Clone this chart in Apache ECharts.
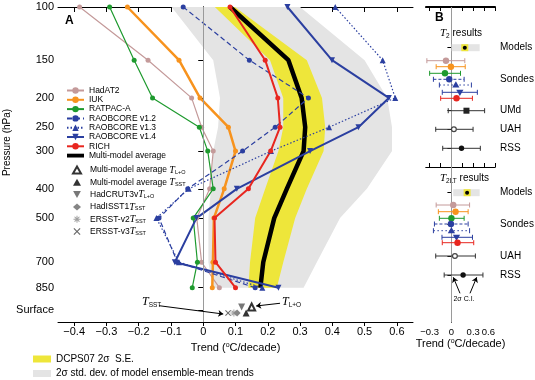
<!DOCTYPE html>
<html><head><meta charset="utf-8">
<script src="https://cdn.jsdelivr.net/npm/echarts@6/dist/echarts.min.js"></script>
<style>html,body{margin:0;padding:0;background:#fff}#c{width:535px;height:380px}</style>
</head><body><div id="c"></div>
<script>
// ---------------- Panel A data ----------------
const pressureLevels = [100, 150, 200, 250, 300, 400, 500, 700, 850];
const hadAT2   = [-0.383, -0.171, -0.036, -0.005, 0.031, 0.02, -0.02, -0.005, 0.05];
const iuk      = [-0.235, -0.075, -0.01, 0.078, 0.10, 0.065, 0.033, 0.03, 0.028];
const ratpacA  = [-0.29, -0.214, -0.157, -0.012, 0.014, 0.031, -0.031, -0.018, -0.034];
const raob12   = [-0.062, 0.143, 0.326, 0.223, 0.122, -0.048, -0.137, -0.08, 0.161];
const raob13   = [0.409, 0.556, 0.595, 0.39, 0.21, -0.045, -0.145, -0.075, 0.183];
const raob14   = [0.261, 0.399, 0.575, 0.481, 0.331, 0.104, -0.021, -0.088, 0.233];
const rich     = [0.083, 0.192, 0.231, 0.238, 0.209, 0.14, 0.035, 0.038, 0.10];
const modelMean = [0.083, 0.264, 0.305, 0.316, 0.311, 0.259, 0.22, 0.186, 0.177];
const dcpsLow  = [0.036, 0.207, 0.248, 0.248, 0.233, 0.192, 0.161, 0.145, 0.14];
const dcpsHigh = [0.098, 0.321, 0.368, 0.378, 0.373, 0.321, 0.285, 0.248, 0.228];
const sdLow    = [-0.098, 0.031, 0.052, 0.046, 0.031, 0.024, 0.016, 0.016, 0.03];
const sdHigh   = [0.30, 0.50, 0.57, 0.585, 0.585, 0.507, 0.424, 0.352, 0.311];
// surface values
const surfaceTickPressure = 1007;
const rowLO = 985, rowSST = 1031;
const modelTLO = 0.15, modelTSST = 0.133, hadcrutTLO = 0.119, hadisstTSST = 0.105, ersst2TSST = 0.095, ersst3TSST = 0.077;
// ticks
const xTicksA = [-0.4, -0.3, -0.2, -0.1, 0, 0.1, 0.2, 0.3, 0.4, 0.5, 0.6];
const pressureTicks = [100, 150, 200, 250, 300, 400, 500, 700, 850, surfaceTickPressure];
const pressureTickLabels = ['100', '150', '200', '250', '300', '400', '500', '700', '850', 'Surface'];

// ---------------- Panel B data ----------------
const t2Names  = ['Models', 'HadAT2', 'IUK', 'RATPAC-A', 'RAOBCORE v1.2', 'RAOBCORE v1.3', 'RAOBCORE v1.4', 'RICH', 'UMd', 'UAH', 'RSS'];
const t2Center = [0.184, -0.075, -0.007, -0.089, -0.03, 0.061, 0.116, 0.07, 0.207, 0.034, 0.139];
const t2Low    = [0.003, -0.338, -0.21, -0.30, -0.248, -0.166, -0.126, -0.148, -0.044, -0.216, -0.12];
const t2High   = [0.389, 0.184, 0.19, 0.125, 0.175, 0.275, 0.357, 0.289, 0.457, 0.298, 0.398];
const t2Row    = [4.07, 5.37, 5.97, 6.63, 7.23, 7.8, 8.53, 9.13, 10.37, 12.23, 14.13];
const t2TickRows = [4.07, 7.23, 10.37, 12.23, 14.13];
const t2TickLabels = ['Models', 'Sondes', 'UMd', 'UAH', 'RSS'];

const t2ltNames  = ['Models', 'HadAT2', 'IUK', 'RATPAC-A', 'RAOBCORE v1.2', 'RAOBCORE v1.3', 'RAOBCORE v1.4', 'RICH', 'UAH', 'RSS'];
const t2ltCenter = [0.216, 0.025, 0.057, 0.0, -0.007, 0.0, 0.07, 0.084, 0.048, 0.161];
const t2ltLow    = [0.025, -0.21, -0.18, -0.166, -0.234, -0.248, -0.13, -0.126, -0.216, -0.10];
const t2ltHigh   = [0.389, 0.25, 0.23, 0.175, 0.23, 0.25, 0.29, 0.307, 0.33, 0.434];
const t2ltRow    = [2.57, 3.8, 4.47, 5.13, 5.7, 6.37, 7.03, 7.57, 8.9, 10.8];
const t2ltTickRows = [2.57, 5.7, 8.9, 10.8];
const t2ltTickLabels = ['Models', 'Sondes', 'UAH', 'RSS'];
const xTicksB = [-0.3, -0.15, 0, 0.15, 0.3, 0.45, 0.6];
const xLabelsB = [-0.3, 0, 0.3, 0.6];

// ---------------- styles ----------------
const FONT = "'Liberation Sans', Arial, sans-serif";
const C = {
  had: '#C49A9A', iuk: '#F7931E', rat: '#1E9A2E', blue: '#2B3FA0', rich: '#E8261F',
  yellow: '#EEE63A', gray: '#E4E4E4', zero: '#9A9A9A'
};
const bStyle = {
  'Models': {color: '#000', marker: 'model'},
  'HadAT2': {color: C.had, marker: 'circle'},
  'IUK': {color: C.iuk, marker: 'circle'},
  'RATPAC-A': {color: C.rat, marker: 'circle'},
  'RAOBCORE v1.2': {color: C.blue, marker: 'circle', dash: [3, 2]},
  'RAOBCORE v1.3': {color: C.blue, marker: 'triangle', dash: [1.5, 2.5]},
  'RAOBCORE v1.4': {color: C.blue, marker: 'down'},
  'RICH': {color: C.rich, marker: 'circle'},
  'UMd': {color: '#222', bar: '#333', marker: 'square'},
  'UAH': {color: '#444', bar: '#333', marker: 'open'},
  'RSS': {color: '#111', bar: '#333', marker: 'dot'}
};

const lg = p => Math.log10(p);
const pairs = vals => vals.map((v, i) => [v, lg(pressureLevels[i])]);
const fmtNum = v => (Math.abs(v) < 1e-9 ? '0' : (v < 0 ? '\u2212' + Math.abs(v).toFixed(1) : v.toFixed(1)));
const lookup = (vals, labels) => v => { const i = vals.findIndex(t => Math.abs(t - v) < 1e-6); return i >= 0 ? labels[i] : ''; };

const yTickValsA = pressureTicks.map(lg);

function bandRenderer(lo, hi) {
  return function (params, api) {
    if (params.dataIndex !== 0) return null;
    const pts = [];
    for (let i = 0; i < lo.length; i++) pts.push(api.coord([lo[i], lg(pressureLevels[i])]));
    for (let i = hi.length - 1; i >= 0; i--) pts.push(api.coord([hi[i], lg(pressureLevels[i])]));
    return {type: 'polygon', shape: {points: pts}, style: {fill: api.visual('color')}};
  };
}

function barRenderer(names) {
  return function (params, api) {
    const row = api.value(3);
    const c = api.coord([api.value(0), row]);
    const l = api.coord([api.value(1), row]);
    const h = api.coord([api.value(2), row]);
    const st = bStyle[names[params.dataIndex]];
    const ch = [];
    const y = c[1];
    if (st.marker === 'model') {
      ch.push({type: 'rect', shape: {x: l[0], y: y - 3.5, width: h[0] - l[0], height: 7}, style: {fill: C.gray}});
      ch.push({type: 'rect', shape: {x: c[0] - 3.5, y: y - 3.5, width: 7, height: 7}, style: {fill: C.yellow}});
      ch.push({type: 'circle', shape: {cx: c[0], cy: y, r: 2}, style: {fill: '#000'}});
    } else {
      const col = st.bar || st.color;
      ch.push({type: 'line', shape: {x1: l[0], y1: y, x2: h[0], y2: y}, style: {stroke: col, lineWidth: 1, lineDash: st.dash || null}});
      ch.push({type: 'line', shape: {x1: l[0], y1: y - 2.5, x2: l[0], y2: y + 2.5}, style: {stroke: col, lineWidth: 1}});
      ch.push({type: 'line', shape: {x1: h[0], y1: y - 2.5, x2: h[0], y2: y + 2.5}, style: {stroke: col, lineWidth: 1}});
      const x = c[0];
      if (st.marker === 'circle') ch.push({type: 'circle', shape: {cx: x, cy: y, r: 3.2}, style: {fill: st.color}});
      else if (st.marker === 'triangle') ch.push({type: 'polygon', shape: {points: [[x, y - 3.8], [x - 3.6, y + 2.6], [x + 3.6, y + 2.6]]}, style: {fill: st.color}});
      else if (st.marker === 'down') ch.push({type: 'polygon', shape: {points: [[x, y + 3.8], [x - 3.6, y - 2.6], [x + 3.6, y - 2.6]]}, style: {fill: st.color}});
      else if (st.marker === 'square') ch.push({type: 'rect', shape: {x: x - 3, y: y - 3, width: 6, height: 6}, style: {fill: st.color}});
      else if (st.marker === 'open') ch.push({type: 'circle', shape: {cx: x, cy: y, r: 2.4}, style: {fill: '#fff', stroke: st.color, lineWidth: 1.2}});
      else if (st.marker === 'dot') ch.push({type: 'circle', shape: {cx: x, cy: y, r: 2.7}, style: {fill: st.color}});
    }
    return {type: 'group', children: ch};
  };
}

const lineSeries = (name, vals, color, width, symbol, size, extra) => Object.assign({
  name, type: 'line', xAxisIndex: 0, yAxisIndex: 0, data: pairs(vals),
  symbol, symbolSize: size, showSymbol: symbol !== 'none',
  lineStyle: {color, width}, itemStyle: {color}, z: 4, silent: true
}, extra || {});

const scatterSeries = (name, x, rowP, symbol, size, color, extra) => Object.assign({
  name, type: 'scatter', xAxisIndex: 0, yAxisIndex: 0, data: [[x, lg(rowP)]],
  symbol, symbolSize: size, itemStyle: {color}, z: 6, silent: true
}, extra || {});

const zeroLine = (xi, yi) => ({
  type: 'line', xAxisIndex: xi, yAxisIndex: yi, data: [], z: 2, silent: true,
  markLine: {silent: true, symbol: 'none', label: {show: false}, animation: false,
    lineStyle: {color: C.zero, width: 1, type: 'solid'}, data: [{xAxis: 0}]}
});

const crossPath = 'path://M0,1.2 L1.2,0 L5,3.8 L8.8,0 L10,1.2 L6.2,5 L10,8.8 L8.8,10 L5,6.2 L1.2,10 L0,8.8 L3.8,5 Z';
const starPath = 'path://M4.3,0 H5.7 V3.3 L8,1 L9,2 L6.7,4.3 H10 V5.7 H6.7 L9,8 L8,9 L5.7,6.7 V10 H4.3 V6.7 L2,9 L1,8 L3.3,5.7 H0 V4.3 H3.3 L1,2 L2,1 L4.3,3.3 Z';
const downPath = 'path://M0,0 L10,0 L5,9 Z';

const richSub = {
  n: {fontSize: 8.5, fontFamily: FONT, lineHeight: 9},
  i: {fontSize: 10, fontFamily: "'Liberation Serif', serif", fontStyle: 'italic', lineHeight: 9},
  s: {fontSize: 5.5, fontFamily: FONT, lineHeight: 6, padding: [4, 0, 0, 0]}
};

const legend1Names = ['HadAT2', 'IUK', 'RATPAC-A', 'RAOBCORE v1.2', 'RAOBCORE v1.3', 'RAOBCORE v1.4', 'RICH'];
const legend2Names = ['Multi-model average TLO', 'Multi-model average TSST', 'HadCRUT3v TLO', 'HadISST1 TSST', 'ERSST-v2 TSST', 'ERSST-v3 TSST'];
const legend2Text = {
  'Multi-model average TLO': '{n|Multi-model average }{i|T}{s|L+O}',
  'Multi-model average TSST': '{n|Multi-model average }{i|T}{s|SST}',
  'HadCRUT3v TLO': '{n|HadCRUT3v}{i|T}{s|L+O}',
  'HadISST1 TSST': '{n|HadISST1}{i|T}{s|SST}',
  'ERSST-v2 TSST': '{n|ERSST-v2}{i|T}{s|SST}',
  'ERSST-v3 TSST': '{n|ERSST-v3}{i|T}{s|SST}'
};
const band1Name = 'DCPS07 2\u03c3  S.E.';
const band2Name = '2\u03c3 std. dev. of model ensemble-mean trends';

const axisBase = {splitLine: {show: false}, axisLine: {lineStyle: {color: '#000', width: 1}}};
const nameRich = {
  n: {fontSize: 11, fontFamily: FONT, color: '#000'},
  sup: {fontSize: 7, fontFamily: FONT, color: '#000', padding: [0, 0, 6, 0]}
};
const gridBase = {containLabel: false, outerBoundsMode: 'none'};

const option = {
  animation: false,
  textStyle: {fontFamily: FONT, color: '#000'},
  grid: [
    Object.assign({left: 58, top: 7, width: 355, height: 315}, gridBase),
    Object.assign({left: 426, top: 7, width: 69, height: 160}, gridBase),
    Object.assign({left: 426, top: 167, width: 69, height: 155}, gridBase)
  ],
  xAxis: [
    Object.assign({}, axisBase, {gridIndex: 0, type: 'value', min: -0.45, max: 0.65, position: 'bottom',
      axisTick: {customValues: xTicksA, length: 4, inside: false, lineStyle: {color: '#000'}},
      axisLabel: {customValues: xTicksA, formatter: fmtNum, fontSize: 11, margin: 4, color: '#000'},
      name: '{n|Trend (}{sup|o}{n|C/decade)}', nameLocation: 'middle', nameGap: 16,
      nameTextStyle: {rich: nameRich}}),
    Object.assign({}, axisBase, {gridIndex: 0, type: 'value', min: -0.45, max: 0.65, position: 'top',
      axisTick: {customValues: xTicksA, length: 5, inside: true, lineStyle: {color: '#000'}},
      axisLabel: {show: false}}),
    Object.assign({}, axisBase, {gridIndex: 1, type: 'value', min: -0.35, max: 0.6, position: 'top',
      axisTick: {customValues: xTicksB, length: 4, inside: true, lineStyle: {color: '#000'}},
      axisLabel: {show: false}}),
    Object.assign({}, axisBase, {gridIndex: 1, type: 'value', min: -0.35, max: 0.6, position: 'bottom',
      axisLine: {lineStyle: {color: '#000', width: 2}}, axisTick: {show: false}, axisLabel: {show: false}}),
    Object.assign({}, axisBase, {gridIndex: 2, type: 'value', min: -0.35, max: 0.6, position: 'top',
      axisTick: {show: false}, axisLabel: {show: false}}),
    Object.assign({}, axisBase, {gridIndex: 2, type: 'value', min: -0.35, max: 0.6, position: 'bottom',
      axisTick: {customValues: xTicksB, length: 4, inside: true, lineStyle: {color: '#000'}},
      axisLabel: {customValues: xLabelsB, formatter: fmtNum, fontSize: 9.5, margin: 5, color: '#000',
        showMaxLabel: true, alignMaxLabel: 'right', hideOverlap: false},
      name: '{n|Trend (}{sup|o}{n|C/decade)}', nameLocation: 'middle', nameGap: 15,
      nameTextStyle: {rich: nameRich}})
  ],
  yAxis: [
    Object.assign({}, axisBase, {gridIndex: 0, type: 'value', min: 2, max: 3.043, inverse: true, position: 'left',
      axisTick: {customValues: yTickValsA, length: 3, inside: false, lineStyle: {color: '#000'}},
      axisLabel: {customValues: yTickValsA, formatter: lookup(yTickValsA, pressureTickLabels), fontSize: 11, margin: 4, color: '#000'}}),
    Object.assign({}, axisBase, {gridIndex: 0, type: 'value', min: 2, max: 3.043, inverse: true, position: 'right',
      axisTick: {customValues: yTickValsA, length: 5, inside: true, lineStyle: {color: '#000'}},
      axisLabel: {show: false}}),
    Object.assign({}, axisBase, {gridIndex: 1, type: 'value', min: 0, max: 16, inverse: true, position: 'left',
      axisTick: {show: false}, axisLabel: {show: false}}),
    Object.assign({}, axisBase, {gridIndex: 1, type: 'value', min: 0, max: 16, inverse: true, position: 'right',
      axisTick: {customValues: t2TickRows, length: 4, inside: true, lineStyle: {color: '#000'}},
      axisLabel: {customValues: t2TickRows, formatter: lookup(t2TickRows, t2TickLabels), fontSize: 10, margin: 5, color: '#000'}}),
    Object.assign({}, axisBase, {gridIndex: 2, type: 'value', min: 0, max: 15.5, inverse: true, position: 'left',
      axisTick: {show: false}, axisLabel: {show: false}}),
    Object.assign({}, axisBase, {gridIndex: 2, type: 'value', min: 0, max: 15.5, inverse: true, position: 'right',
      axisTick: {customValues: t2ltTickRows, length: 4, inside: true, lineStyle: {color: '#000'}},
      axisLabel: {customValues: t2ltTickRows, formatter: lookup(t2ltTickRows, t2ltTickLabels), fontSize: 10, margin: 5, color: '#000'}})
  ],
  legend: [
    {data: legend1Names.concat([{name: 'Multi-model average', icon: 'path://M0,0 H20 V4.5 H0 Z'}]),
      orient: 'vertical', left: 66, top: 86, itemWidth: 17, itemHeight: 8, itemGap: 0.3,
      selectedMode: false, textStyle: {fontSize: 8.5, lineHeight: 8, color: '#000', fontFamily: FONT}, padding: 0},
    {data: legend2Names, orient: 'vertical', left: 72, top: 165, itemWidth: 8, itemHeight: 7, itemGap: 2.3,
      selectedMode: false, formatter: n => legend2Text[n], textStyle: {color: '#000', rich: richSub, padding: [0, 0, 0, 4]}, padding: 0},
    {data: [band1Name, band2Name], orient: 'vertical', left: 33, top: 354, itemWidth: 18, itemHeight: 7, itemGap: 4.5,
      icon: 'rect', selectedMode: false, textStyle: {fontSize: 10, lineHeight: 10, color: '#000', fontFamily: FONT}, padding: 0}
  ],
  series: [
    {name: band2Name, type: 'custom', xAxisIndex: 0, yAxisIndex: 0, z: 1, silent: true, clip: true,
      itemStyle: {color: C.gray}, renderItem: bandRenderer(sdLow, sdHigh),
      data: pressureLevels.map((p, i) => [sdLow[i], lg(p), sdHigh[i]])},
    {name: band1Name, type: 'custom', xAxisIndex: 0, yAxisIndex: 0, z: 1, silent: true, clip: true,
      itemStyle: {color: C.yellow}, renderItem: bandRenderer(dcpsLow, dcpsHigh),
      data: pressureLevels.map((p, i) => [dcpsLow[i], lg(p), dcpsHigh[i]])},
    zeroLine(0, 0),
    lineSeries('HadAT2', hadAT2, C.had, 1.2, 'circle', 5),
    lineSeries('IUK', iuk, C.iuk, 2.5, 'circle', 5),
    lineSeries('RATPAC-A', ratpacA, C.rat, 1.2, 'circle', 5),
    lineSeries('RAOBCORE v1.2', raob12, C.blue, 1.2, 'circle', 5, {lineStyle: {color: C.blue, width: 1.2, type: [5, 3]}}),
    lineSeries('RAOBCORE v1.3', raob13, C.blue, 1.2, 'triangle', 6, {lineStyle: {color: C.blue, width: 1.2, type: [1.5, 2]}}),
    lineSeries('RAOBCORE v1.4', raob14, C.blue, 2, downPath, 6),
    lineSeries('RICH', rich, C.rich, 2, 'circle', 5),
    lineSeries('Multi-model average', modelMean, '#000', 4.5, 'none', 0, {z: 3}),
    scatterSeries('Multi-model average TLO', modelTLO, rowLO, 'emptyTriangle', 7, '#000', {itemStyle: {color: '#000', borderColor: '#000', borderWidth: 1}}),
    scatterSeries('Multi-model average TSST', modelTSST, rowSST, 'triangle', 7, '#000'),
    scatterSeries('HadCRUT3v TLO', hadcrutTLO, rowLO, downPath, 7, '#555'),
    scatterSeries('HadISST1 TSST', hadisstTSST, rowSST, 'diamond', 7, '#666'),
    scatterSeries('ERSST-v2 TSST', ersst2TSST, rowSST, starPath, 7, '#888'),
    scatterSeries('ERSST-v3 TSST', ersst3TSST, rowSST, crossPath, 6, '#444'),
    {type: 'line', xAxisIndex: 0, yAxisIndex: 0, data: [], silent: true, z: 5,
      markLine: {silent: true, symbol: ['none', 'arrow'], symbolSize: 5, label: {show: false}, animation: false,
        lineStyle: {color: '#000', width: 1, type: 'solid'},
        data: [
          [{coord: [-0.137, 2.989]}, {coord: [0.062, 3.0166]}],
          [{coord: [0.238, 2.981]}, {coord: [0.164, 2.990]}]
        ]}},
    zeroLine(2, 2),
    zeroLine(4, 4),
    {type: 'custom', xAxisIndex: 2, yAxisIndex: 2, z: 5, silent: true, renderItem: barRenderer(t2Names),
      data: t2Center.map((c, i) => [c, t2Low[i], t2High[i], t2Row[i]])},
    {type: 'custom', xAxisIndex: 4, yAxisIndex: 4, z: 5, silent: true, renderItem: barRenderer(t2ltNames),
      data: t2ltCenter.map((c, i) => [c, t2ltLow[i], t2ltHigh[i], t2ltRow[i]]),
      markLine: {silent: true, symbol: ['none', 'arrow'], symbolSize: 5, label: {show: false}, animation: false,
        lineStyle: {color: '#000', width: 1, type: 'solid'},
        data: [
          [{coord: [0.118, 12.63]}, {coord: [0.026, 11.03]}],
          [{coord: [0.256, 12.63]}, {coord: [0.348, 11.03]}]
        ]}}
  ],
  graphic: [
    {type: 'text', x: 7, y: 142.5, rotation: Math.PI / 2, style: {text: 'Pressure (hPa)', font: '10px ' + FONT, fill: '#000', align: 'center', verticalAlign: 'middle'}},
    {type: 'text', x: 65, y: 21, style: {text: 'A', font: 'bold 12px ' + FONT, fill: '#000', verticalAlign: 'middle'}},
    {type: 'text', x: 435, y: 17.5, style: {text: 'B', font: 'bold 12px ' + FONT, fill: '#000', verticalAlign: 'middle'}},
    {type: 'text', x: 440, y: 33.5, style: {text: '{i|T}{s|2}{n| results}', verticalAlign: 'middle',
      rich: {n: {fontSize: 10, fontFamily: FONT, lineHeight: 11}, i: {fontSize: 11, fontStyle: 'italic', fontFamily: "'Liberation Serif', serif", lineHeight: 11},
        s: {fontSize: 6.5, fontFamily: FONT, lineHeight: 7, padding: [5, 0, 0, 0]}}}},
    {type: 'text', x: 440, y: 178.5, style: {text: '{i|T}{s|2LT}{n| results}', verticalAlign: 'middle',
      rich: {n: {fontSize: 10, fontFamily: FONT, lineHeight: 11}, i: {fontSize: 11, fontStyle: 'italic', fontFamily: "'Liberation Serif', serif", lineHeight: 11},
        s: {fontSize: 6.5, fontFamily: FONT, lineHeight: 7, padding: [5, 0, 0, 0]}}}},
    {type: 'text', x: 142, y: 302, style: {text: '{i|T}{s|SST}', verticalAlign: 'middle',
      rich: {i: {fontSize: 12, fontStyle: 'italic', fontFamily: "'Liberation Serif', serif", lineHeight: 12},
        s: {fontSize: 6.5, fontFamily: FONT, lineHeight: 7, padding: [6, 0, 0, 0]}}}},
    {type: 'text', x: 282, y: 302, style: {text: '{i|T}{s|L+O}', verticalAlign: 'middle',
      rich: {i: {fontSize: 12, fontStyle: 'italic', fontFamily: "'Liberation Serif', serif", lineHeight: 12},
        s: {fontSize: 6.5, fontFamily: FONT, lineHeight: 7, padding: [6, 0, 0, 0]}}}},
    {type: 'text', x: 464, y: 299, style: {text: '2\u03c3 C.I.', font: '7px ' + FONT, fill: '#000', align: 'center', verticalAlign: 'middle'}}
  ]
};

const chart = echarts.init(document.getElementById('c'));
chart.setOption(option);
</script>
</body></html>
